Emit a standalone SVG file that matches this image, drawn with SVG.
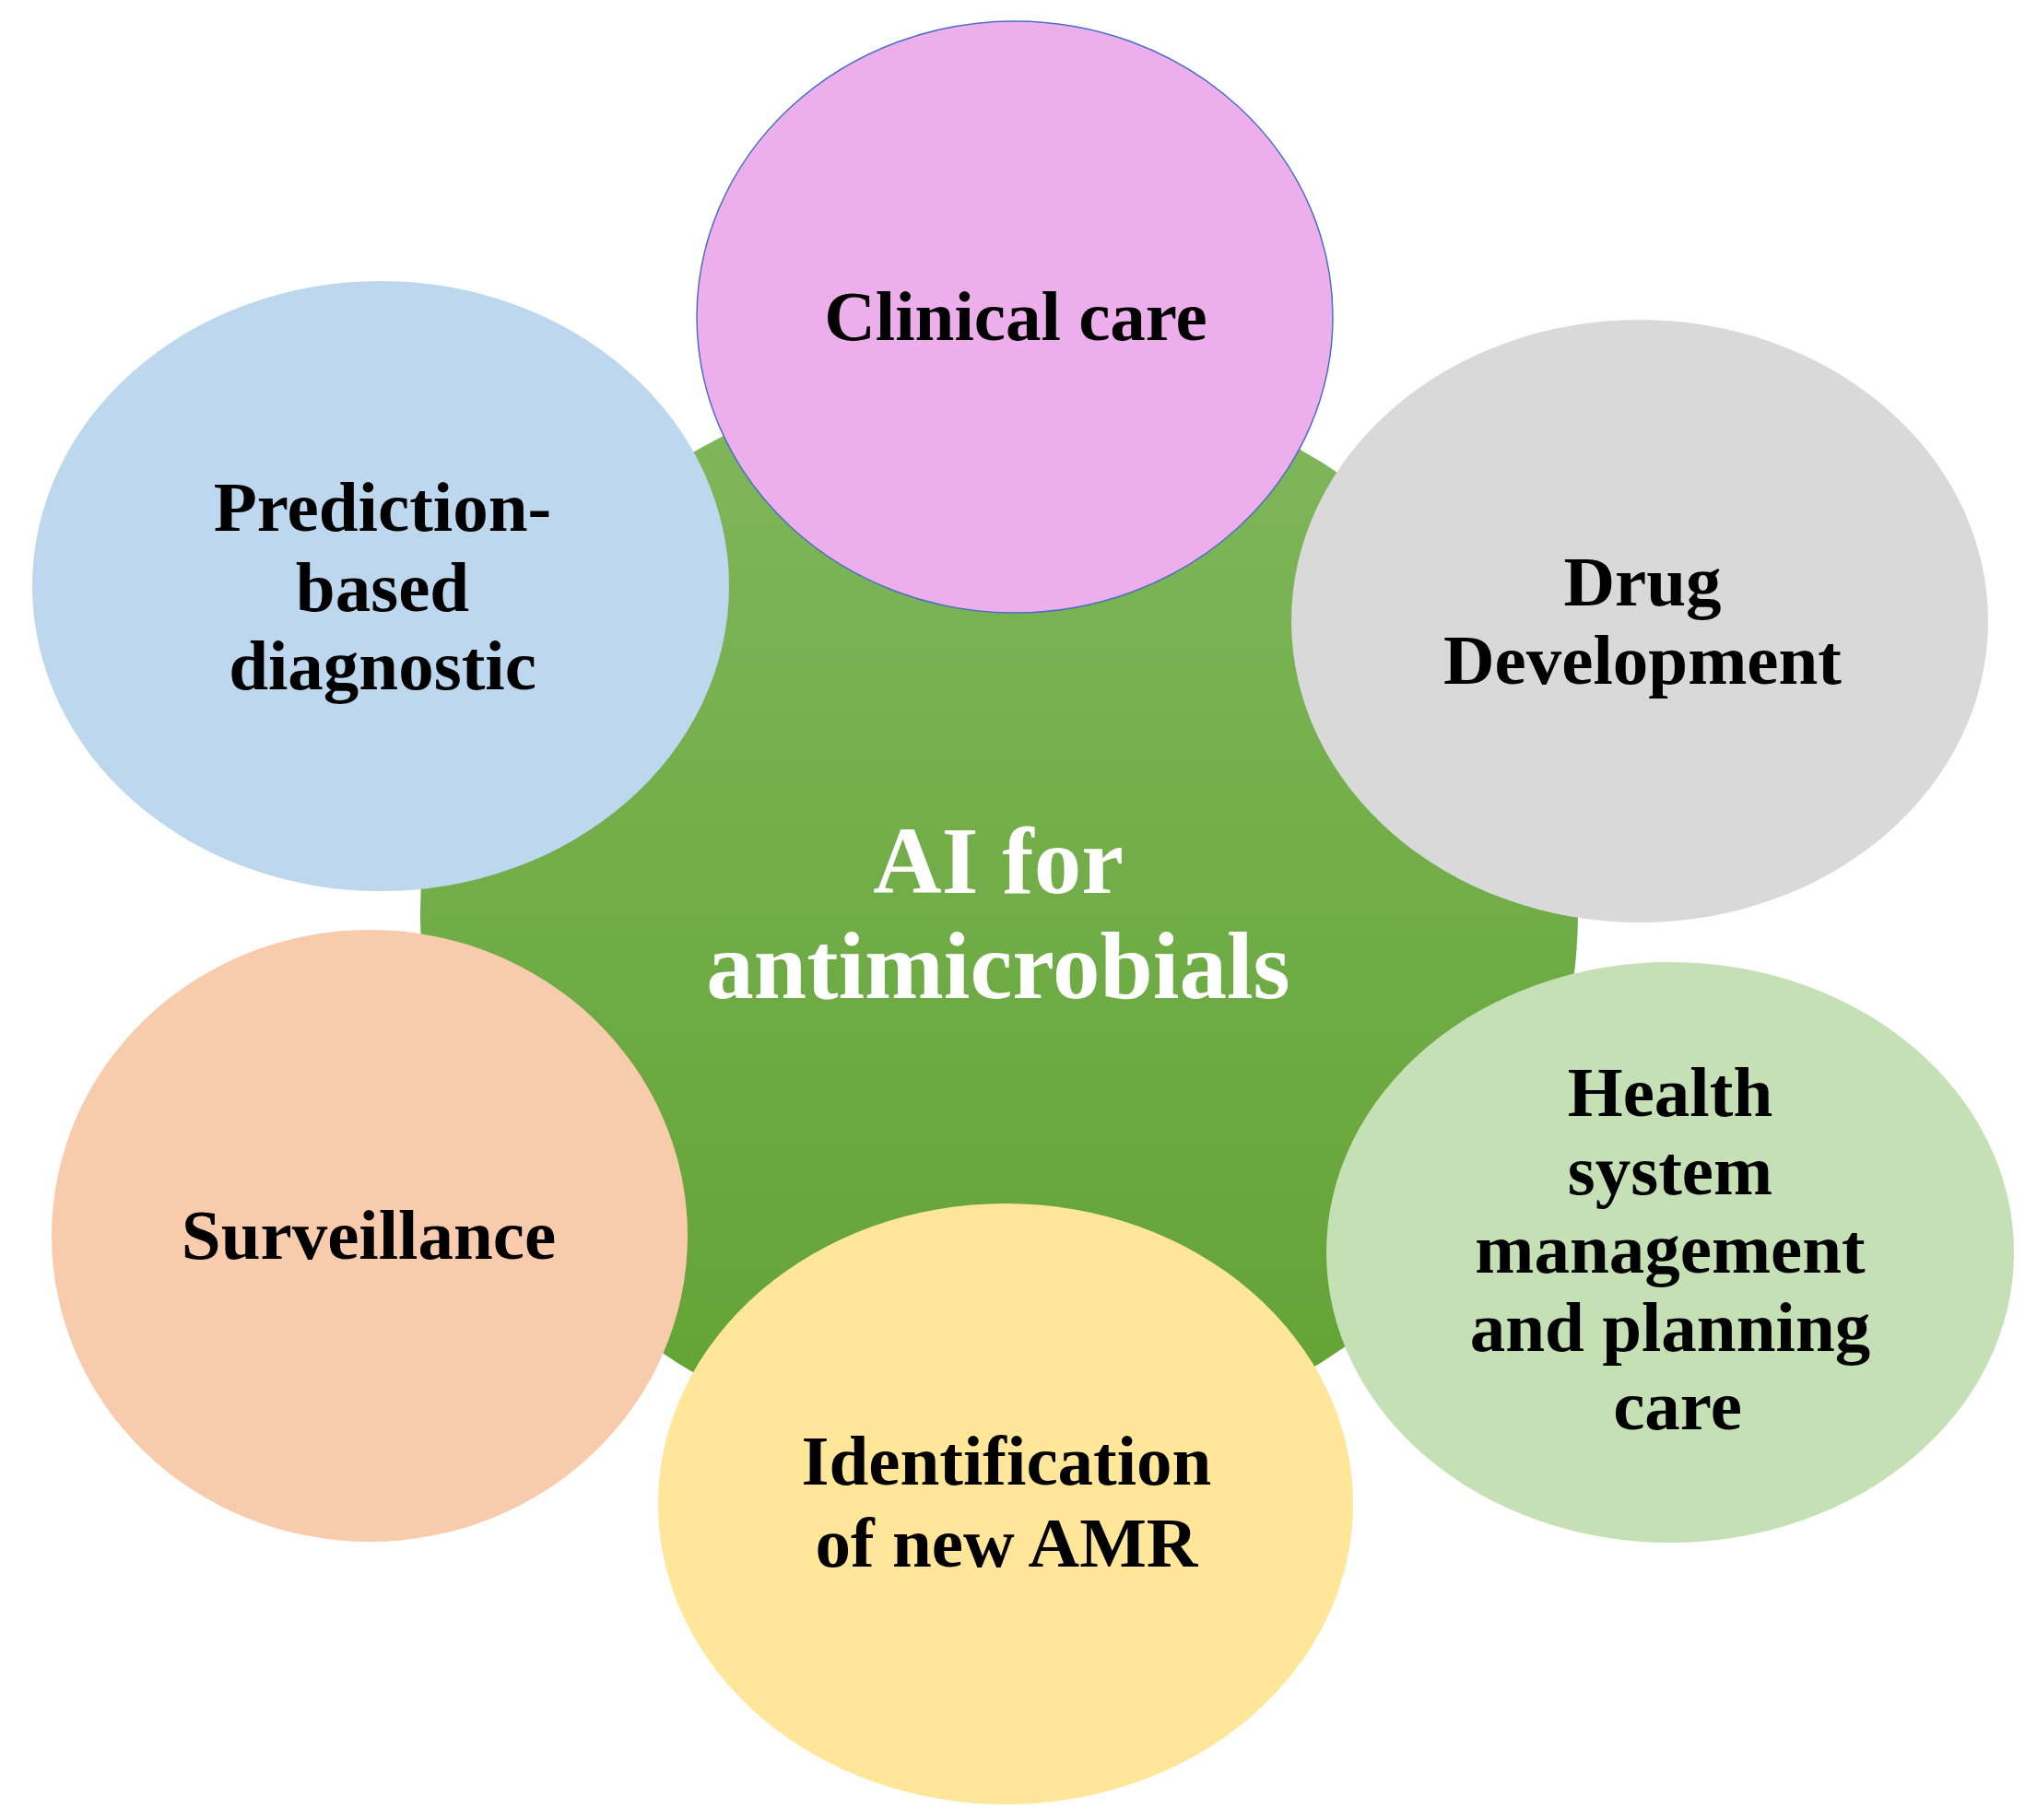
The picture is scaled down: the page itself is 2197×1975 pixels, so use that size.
<svg xmlns="http://www.w3.org/2000/svg" width="2197" height="1975" viewBox="0 0 2197 1975">
  <defs>
    <linearGradient id="hubGrad" x1="0" y1="0" x2="0" y2="1">
      <stop offset="0" stop-color="#80b75c"/>
      <stop offset="1" stop-color="#62a233"/>
    </linearGradient>
  </defs>
  <style>
    .lbl { font-family: "Liberation Serif", "Times New Roman", serif; font-weight: bold; font-size: 77px; fill: #000000; text-anchor: middle; }
    .hub { font-family: "Liberation Serif", "Times New Roman", serif; font-weight: bold; font-size: 103px; fill: #ffffff; text-anchor: middle; }
  </style>
  <rect x="0" y="0" width="2197" height="1975" fill="#ffffff"/>

  <g id="hub">
    <ellipse cx="1084" cy="990" rx="628" ry="588" fill="url(#hubGrad)"/>
    <text class="hub" x="1083" y="969">AI for</text>
    <text class="hub" x="1083" y="1083">antimicrobials</text>
  </g>

  <g id="connectors"></g>

  <g id="prediction">
    <ellipse cx="413" cy="636" rx="378" ry="331" fill="#bdd7ee"/>
    <text class="lbl" x="415" y="576">Prediction-</text>
    <text class="lbl" x="415" y="663">based</text>
    <text class="lbl" x="415" y="748">diagnostic</text>
  </g>

  <g id="drug">
    <ellipse cx="1779" cy="674" rx="378" ry="327" fill="#d9d9d9"/>
    <text class="lbl" x="1782" y="657">Drug</text>
    <text class="lbl" x="1782" y="742">Development</text>
  </g>

  <g id="health">
    <ellipse cx="1812" cy="1359" rx="373" ry="315" fill="#c5e0b4"/>
    <text class="lbl" x="1812" y="1211">Health</text>
    <text class="lbl" x="1812" y="1296">system</text>
    <text class="lbl" x="1812" y="1381">management</text>
    <text class="lbl" x="1812" y="1466">and planning</text>
    <text class="lbl" x="1820" y="1551">care</text>
  </g>

  <g id="surveillance">
    <ellipse cx="401" cy="1341" rx="345" ry="332" fill="#f8cbad"/>
    <text class="lbl" x="400" y="1366">Surveillance</text>
  </g>

  <g id="identification">
    <ellipse cx="1091" cy="1632" rx="377" ry="326" fill="#ffe699"/>
    <text class="lbl" x="1092" y="1611">Identification</text>
    <text class="lbl" x="1092" y="1700">of new AMR</text>
  </g>

  <g id="clinical">
    <ellipse cx="1101" cy="344" rx="345" ry="321" fill="#edafeb" stroke="#4a6fc4" stroke-width="1.5"/>
    <text class="lbl" x="1102" y="369">Clinical care</text>
  </g>
</svg>
